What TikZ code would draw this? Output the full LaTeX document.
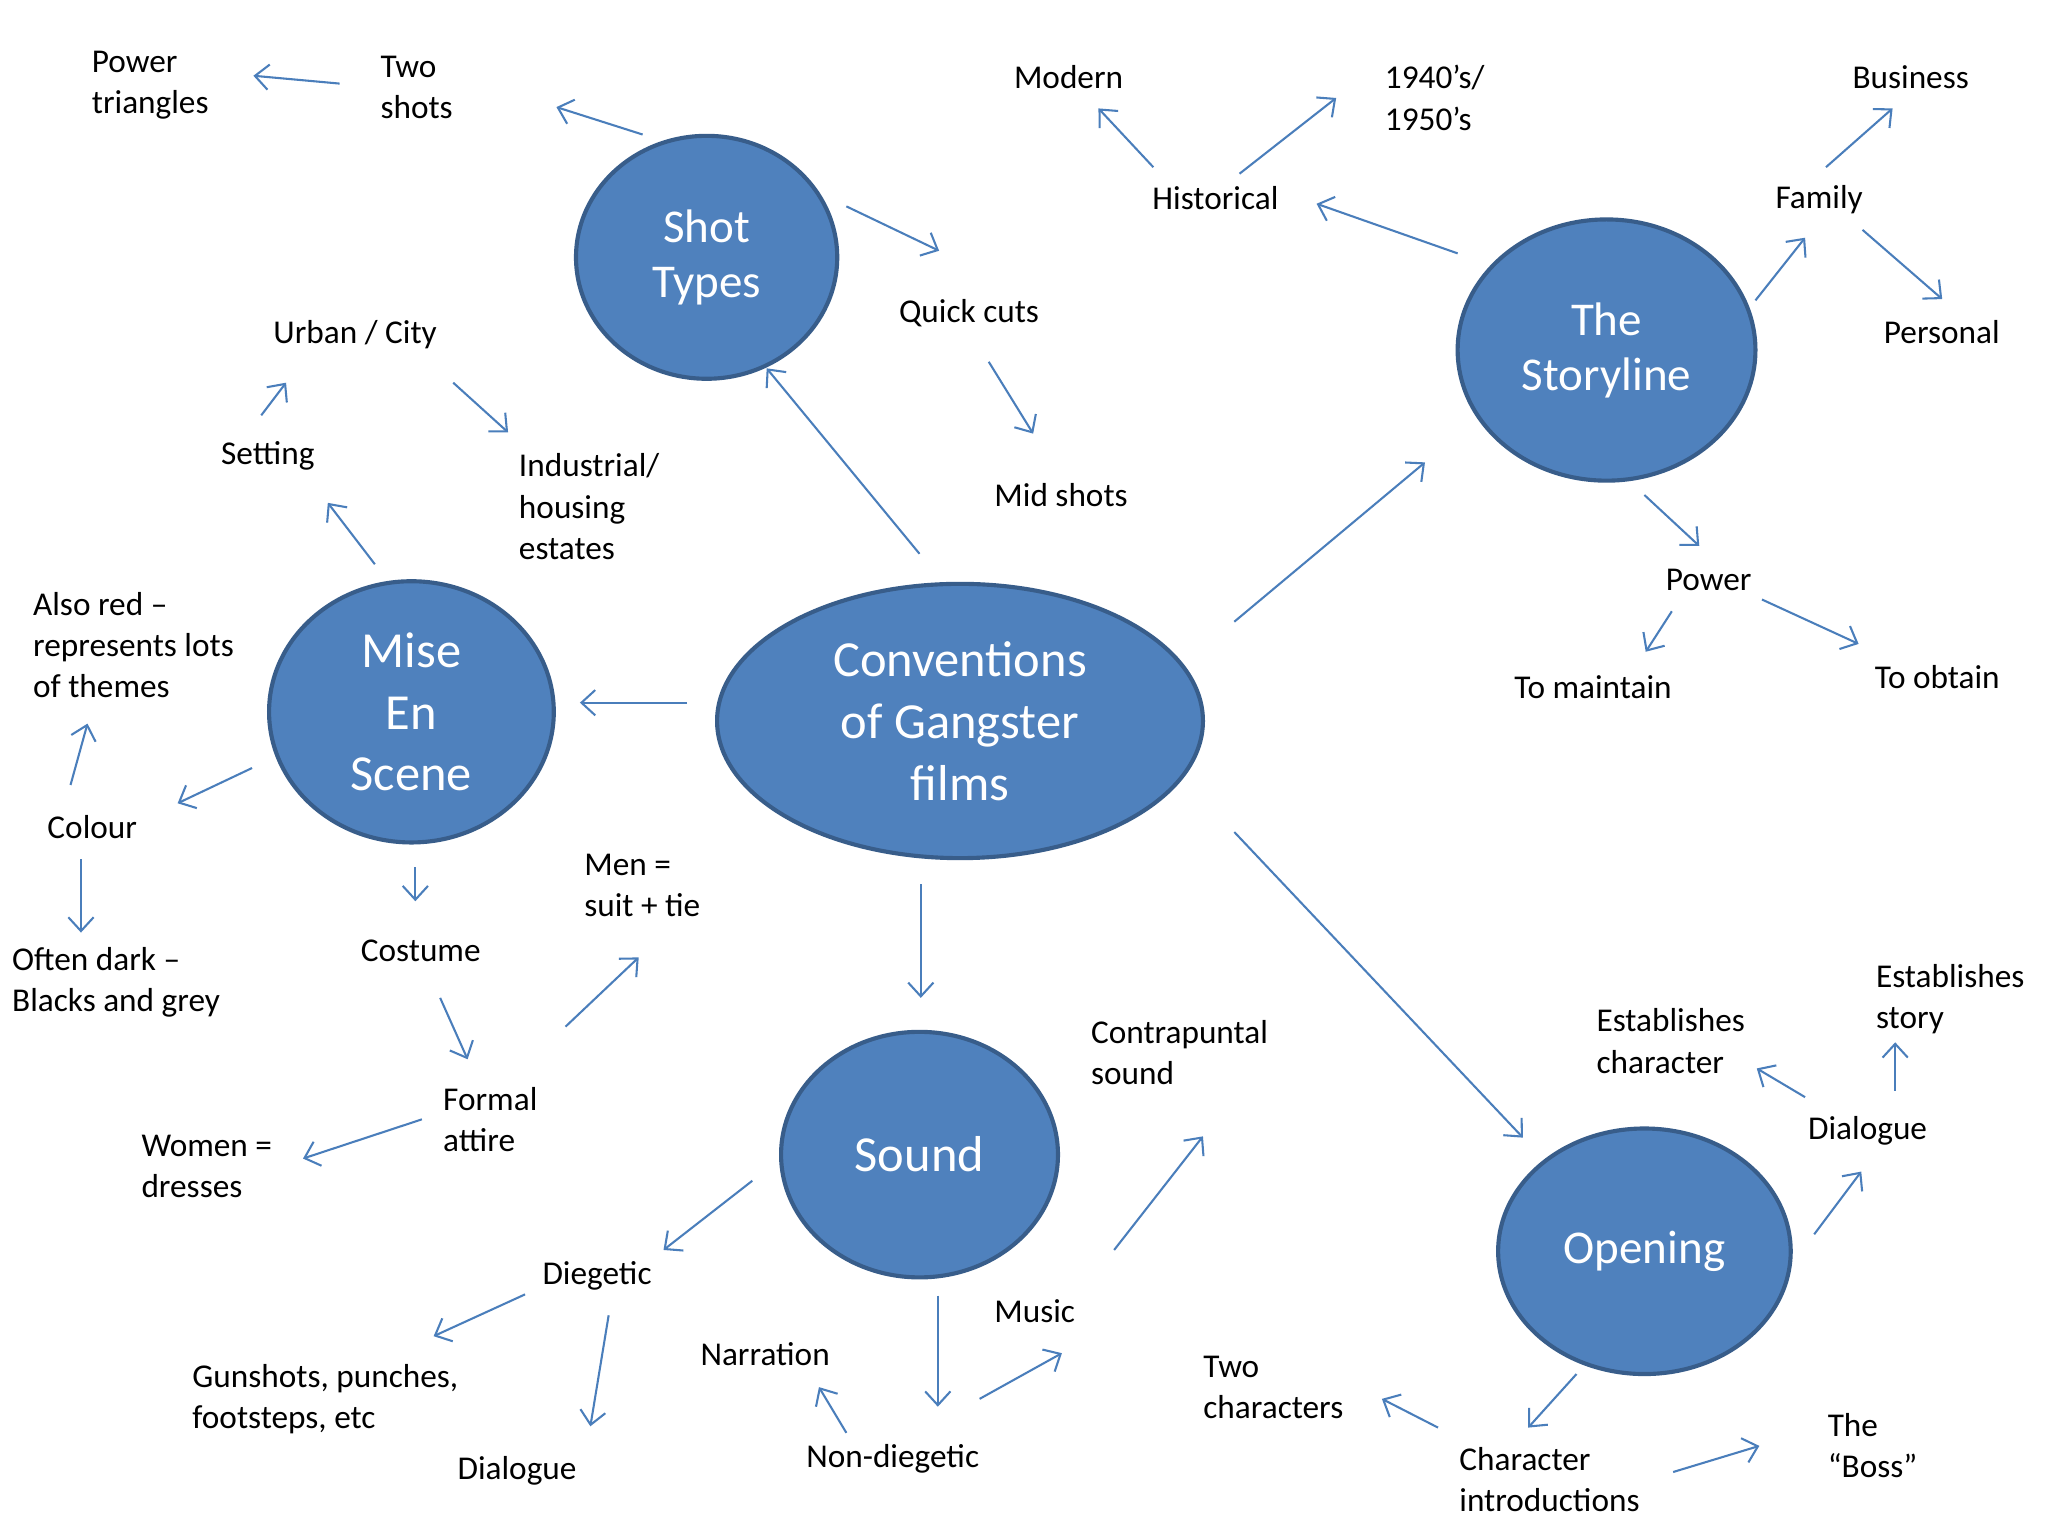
\documentclass[tikz,border=0pt]{standalone}
\usepackage{fontspec}
\setmainfont{Carlito}
\usetikzlibrary{arrows.meta,shapes.geometric}
\definecolor{bfill}{HTML}{4F81BD}
\definecolor{bline}{HTML}{385D8A}
\definecolor{arc}{HTML}{4A7EBB}
\begin{document}
\begin{tikzpicture}[x=0.02cm,y=-0.02cm,
  bub/.style={ellipse,fill=bfill,draw=bline,line width=1.8pt,text=white,align=center,inner sep=0pt},
  bubble/.style args={#1/#2}{bub,minimum width=#1*0.02cm,minimum height=#2*0.02cm},
  lab/.style={anchor=west,align=left,inner sep=0pt,font=\fontsize{14.5}{18}\selectfont},
  arr/.style={draw=arc,line width=0.9pt,-{Straight Barb[length=6pt,width=11pt]}}]
\useasboundingbox[fill=white] (0,0) rectangle (1568,1176);
\node[bubble=200/186,font=\fontsize{20.5}{24}\selectfont] (shot) at (541,197) {Shot\\Types};
\node[bubble=228/200,font=\fontsize{20.5}{24}\selectfont] (story) at (1230,268) {The\\Storyline};
\node[bubble=218/200,font=\fontsize{22}{27}\selectfont] (mise) at (315,545) {Mise\\En\\Scene};
\node[bubble=372/210,font=\fontsize{22}{27}\selectfont] (conv) at (735,552) {Conventions\\of Gangster\\films};
\node[bubble=212/188,font=\fontsize{22}{27}\selectfont] (sound) at (704,884) {Sound};
\node[bubble=224/188,font=\fontsize{20.5}{24}\selectfont] (open) at (1259,958) {Opening};

\node[lab] (l1) at (70,65) {Power\\triangles};
\node[lab] (l2) at (291,67) {Two\\shots};
\node[lab] (l3) at (776,59) {Modern};
\node[lab] (l4) at (1060,75) {1940’s/\\1950’s};
\node[lab] (l5) at (1418,59) {Business};
\node[lab] (l6) at (882,152) {Historical};
\node[lab] (l7) at (1359,153) {Family};
\node[lab] (l8) at (1442,254) {Personal};
\node[lab] (l9) at (688,240) {Quick cuts};
\node[lab] (l10) at (209,256) {Urban / City};
\node[lab] (l11) at (169,349) {Setting};
\node[lab] (l12) at (397,388) {Industrial/\\housing\\estates};
\node[lab] (l13) at (761,379) {Mid shots};
\node[lab] (l14) at (1275,444) {Power};
\node[lab] (l15) at (1159,526) {To maintain};
\node[lab] (l16) at (1435,518) {To obtain};
\node[lab] (l17) at (25,494) {Also red –\\represents lots\\of themes};
\node[lab] (l18) at (36,633) {Colour};
\node[lab] (l19) at (447,678) {Men =\\suit + tie};
\node[lab] (l20) at (276,728) {Costume};
\node[lab] (l21) at (9,752) {Often dark –\\Blacks and grey};
\node[lab] (l22) at (1436,765) {Establishes\\story};
\node[lab] (l23) at (1222,797) {Establishes\\character};
\node[lab] (l24) at (835,806) {Contrapuntal\\sound};
\node[lab] (l25) at (339,857) {Formal\\attire};
\node[lab] (l26) at (1384,866) {Dialogue};
\node[lab] (l27) at (108,893) {Women =\\dresses};
\node[lab] (l28) at (415,977) {Diegetic};
\node[lab] (l29) at (761,1004) {Music};
\node[lab] (l30) at (536,1037) {Narration};
\node[lab] (l31) at (921,1062) {Two\\characters};
\node[lab] (l32) at (147,1071) {Gunshots, punches,\\footsteps, etc};
\node[lab] (l33) at (1399,1107) {The\\“Boss”};
\node[lab] (l34) at (617,1117) {Non-diegetic};
\node[lab] (l35) at (350,1126) {Dialogue};
\node[lab] (l36) at (1117,1133) {Character\\introductions};

\foreach \a/\b/\c/\d in {
260/64/194/58, 492/103/426/82, 648/158/719/192, 883/128/841/83,
949/133/1023/75, 1116/194/1008/156, 1398/128/1449/83, 1426/176/1487/229,
1344/230/1382/182, 757/277/791/332, 704/424/587/282, 200/318/219/293,
347/293/389/331, 287/432/251/385, 945/476/1091/354, 1259/379/1301/418,
1280/468/1260/499, 1349/459/1423/493, 526/538/444/538, 54/601/67/554,
193/588/136/615, 62/658/62/714, 318/664/318/690, 433/786/489/733,
337/764/358/811, 705/677/705/764, 945/637/1166/871, 1451/835/1451/798,
1382/840/1345/818, 323/857/232/887, 576/904/508/957, 853/957/921/870,
1389/945/1425/897, 402/991/332/1023, 466/1007/452/1092, 718/992/718/1077,
750/1071/813/1036, 648/1097/627/1062, 1101/1093/1058/1071, 1207/1052/1170/1093,
1281/1127/1347/1107}
  \draw[arr] (\a,\b) -- (\c,\d);
\end{tikzpicture}
\end{document}
